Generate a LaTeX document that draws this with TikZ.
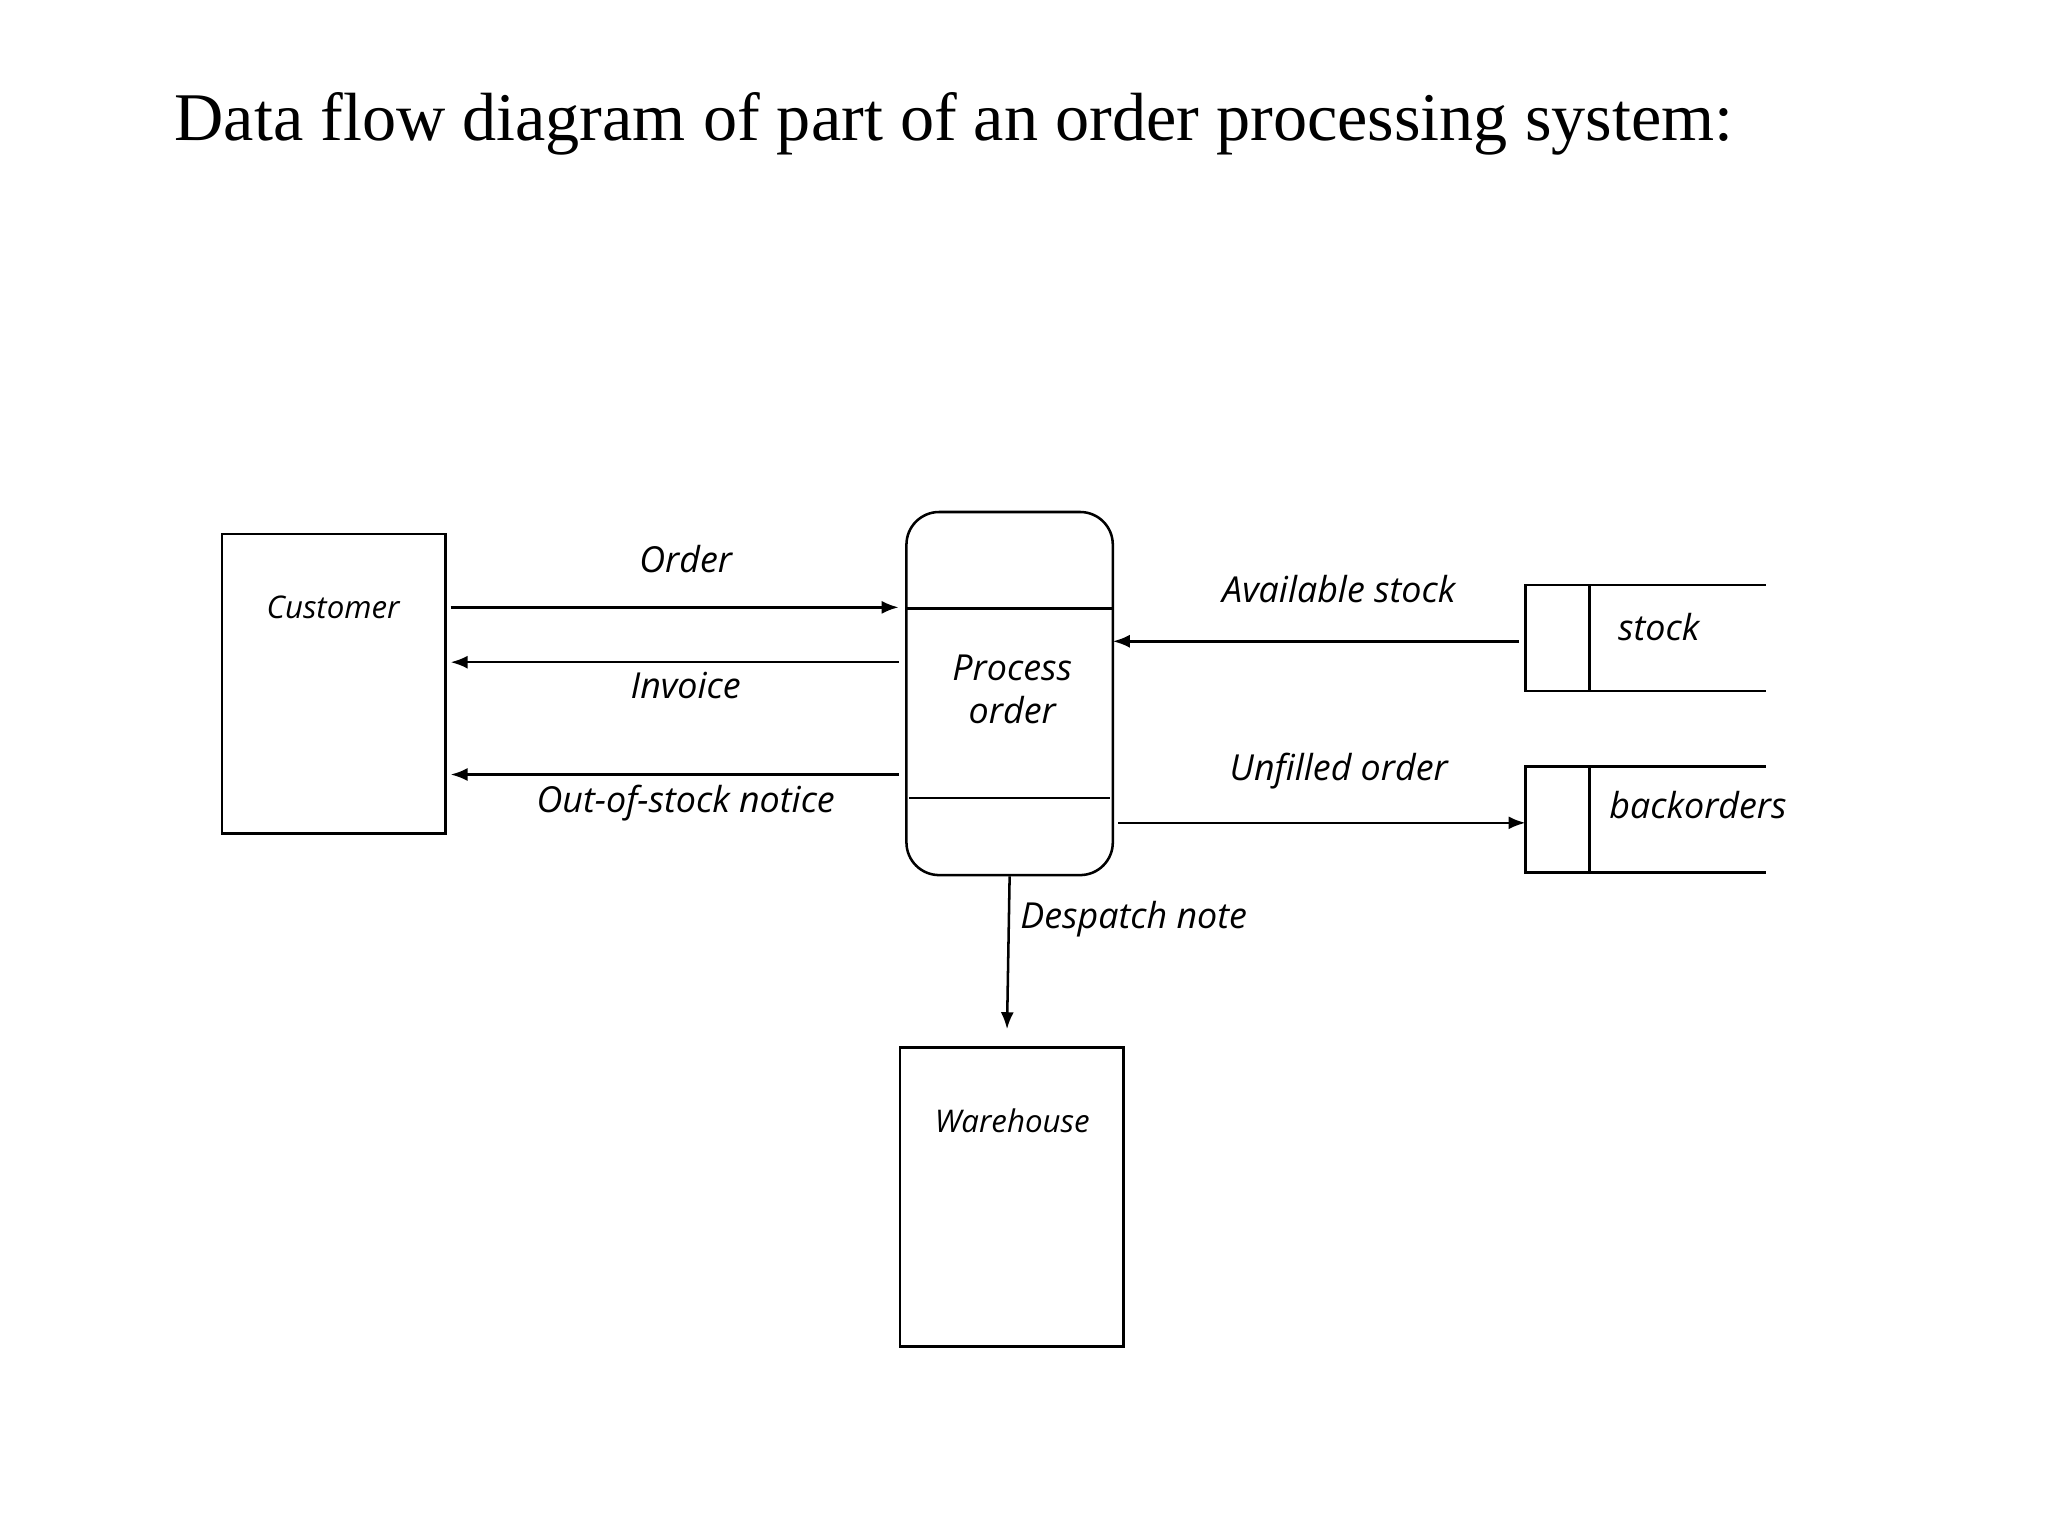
\documentclass[tikz,border=0pt]{standalone}
\usepackage{fontspec}
\setmainfont{Liberation Serif}
\newfontfamily\dfdfont{Open Sans}
\usetikzlibrary{arrows.meta}
\tikzset{
  lbl/.style={font=\dfdfont\itshape\fontsize{7.8}{9.4}\selectfont, inner sep=0pt, align=center},
  small/.style={font=\dfdfont\itshape\fontsize{6.8}{8}\selectfont, inner sep=0pt},
  flow/.style={line width=0.55pt, -{Latex[length=0.13cm,width=0.1cm]}},
  line/.style={line width=0.55pt}
}
\begin{document}
\begin{tikzpicture}[x=0.01cm,y=-0.01cm]
  \useasboundingbox (0,0) rectangle (1568,1176);
  % title
  \node[anchor=west, inner sep=0pt, font=\fontsize{14.85}{17}\selectfont] (title) at (133,95)
    {Data flow diagram of part of an order processing system:};

  % external entities
  \draw[line] (170,409) rectangle (341,638);
  \node[small] (customer) at (255,465) {Customer};
  \draw[line] (689,802) rectangle (860,1031);
  \node[small] (warehouse) at (775,858) {Warehouse};

  % process
  \draw[line, rounded corners=0.25cm] (694,392) rectangle (852,670);
  \draw[line] (694,466) -- (852,466);
  \draw[line] (696,611) -- (850,611);
  \node[lbl] (process) at (775,528) {Process\\order};

  % data stores
  \draw[line] (1352,448) -- (1168,448) -- (1168,529) -- (1352,529);
  \draw[line] (1217,448) -- (1217,529);
  \node[lbl] (stock) at (1270,480) {stock};
  \draw[line] (1352,587) -- (1168,587) -- (1168,668) -- (1352,668);
  \draw[line] (1217,587) -- (1217,668);
  \node[lbl] (backorders) at (1300,616) {backorders};

  % connector ends
  \coordinate (c1) at (345,465); \coordinate (p1) at (688,465);
  \coordinate (c2) at (345,507); \coordinate (p2) at (688,507);
  \coordinate (c3) at (345,593); \coordinate (p3) at (688,593);
  \coordinate (s1) at (1163,491); \coordinate (p4) at (852,491);
  \coordinate (p5) at (856,630); \coordinate (b1) at (1168,630);
  \coordinate (p6) at (773,671); \coordinate (w1) at (771,788);

  \draw[flow] (c1) -- (p1);
  \draw[flow] (p2) -- (c2);
  \draw[flow] (p3) -- (c3);
  \draw[flow] (s1) -- (p4);
  \draw[flow] (p5) -- (b1);
  \draw[flow] (p6) -- (w1);

  \node[lbl] (lorder) at (525,428) {Order};
  \node[lbl] (linvoice) at (525,525) {Invoice};
  \node[lbl] (lnotice) at (525,615) {Out-of-stock notice};
  \node[lbl] (lavail) at (1025,451) {Available stock};
  \node[lbl] (lunfilled) at (1025,590) {Unfilled order};
  \node[lbl] (ldespatch) at (868,704) {Despatch note};
\end{tikzpicture}
\end{document}
